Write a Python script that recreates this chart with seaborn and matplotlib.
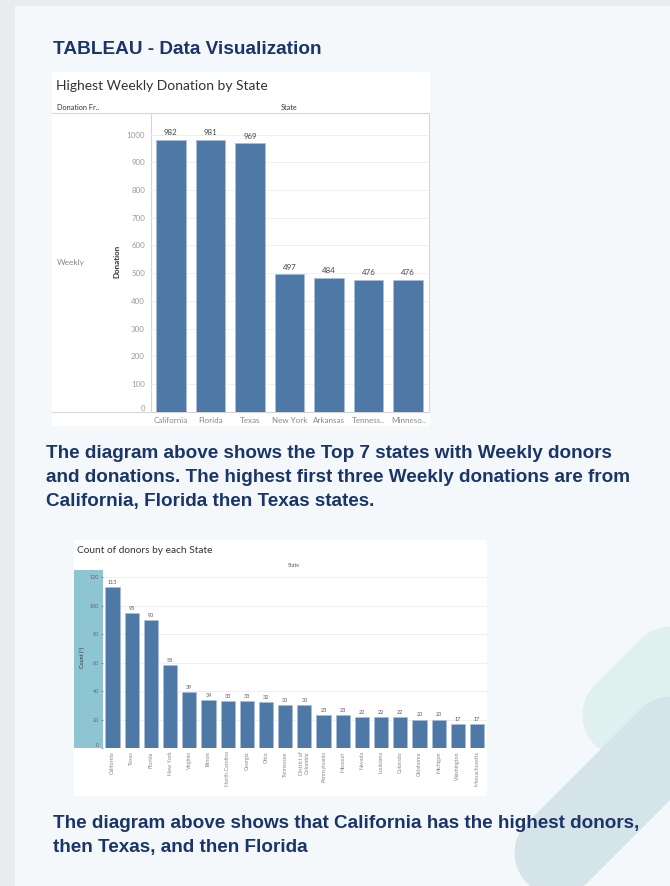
import matplotlib
matplotlib.use('Agg')
import matplotlib.pyplot as plt
import matplotlib.transforms as mtransforms
import seaborn as sns
from matplotlib.patches import Rectangle

# ---------------- data ----------------
states_weekly = ["California", "Florida", "Texas", "New York", "Arkansas", "Tenness..", "Minneso.."]
donation_weekly = [982, 981, 969, 497, 484, 476, 476]
yticks_weekly = [0, 100, 200, 300, 400, 500, 600, 700, 800, 900, 1000]

states_count = ["California", "Texas", "Florida", "New York", "Virginia", "Illinois",
                "North Carolina", "Georgia", "Ohio", "Tennessee", "District of\nColumbia",
                "Pennsylvania", "Missouri", "Nevada", "Louisiana", "Colorado", "Oklahoma",
                "Michigan", "Washington", "Massachusetts"]
donor_counts = [113, 95, 90, 58, 39, 34, 33, 33, 32, 30, 30, 23, 23, 22, 22, 22, 20, 20, 17, 17]
yticks_count = [0, 20, 40, 60, 80, 100, 120]

page_title = "TABLEAU - Data Visualization"
para1 = ["The diagram above shows the Top 7 states with Weekly donors",
         "and donations. The highest first three Weekly donations are from",
         "California, Florida then Texas states."]
para2 = ["The diagram above shows that California has the highest donors,",
         "then Texas, and then Florida"]

# ---------------- setup ----------------
sns.set_theme(style="white")
plt.rcParams['font.family'] = ['Lato', 'DejaVu Sans']

W, H = 670, 886
fig = plt.figure(figsize=(W / 100, H / 100), dpi=100)
fig.patch.set_facecolor('#e9ebee')
bg = fig.add_axes([0, 0, 1, 1], zorder=0)
bg.set_xlim(0, W)
bg.set_ylim(H, 0)
bg.axis('off')
renderer = fig.canvas.get_renderer()


def fax(x0, y0, x1, y1):
    return [x0 / W, 1 - y1 / H, (x1 - x0) / W, (y1 - y0) / H]


def fit_size(s, target_w, size0, **kw):
    t = bg.text(0, 0, s, fontsize=size0, **kw)
    w = t.get_window_extent(renderer=renderer).width
    t.remove()
    return size0 * target_w / w


NAVY = '#1a3569'
BLUE = '#4e79a7'

# page card
bg.add_patch(Rectangle((15, 6), W - 15, H - 6, color='#f4f8fb', lw=0, zorder=0))
# decorative bands
bg.plot([625, 820], [715, 520], color='#dff0ee', lw=85 * 0.72, solid_capstyle='round', zorder=1)
bg.plot([557, 820], [853, 590], color='#d4e4e9', lw=85 * 0.72, solid_capstyle='round', zorder=1)

# page texts
head_kw = dict(family=['Liberation Sans', 'DejaVu Sans'], weight='bold', color=NAVY)
fs = fit_size(page_title, 269, 13.6, **head_kw)
bg.text(53, 54, page_title, fontsize=fs, va='baseline', ha='left', zorder=5, **head_kw)

fs1 = fit_size(para1[1], 587, 12.7, **head_kw)
for i, line in enumerate(para1):
    bg.text(46, 458 + 24 * i, line, fontsize=fs1, va='baseline', ha='left', zorder=5, **head_kw)
fs2 = fit_size(para2[0], 588, 12.7, **head_kw)
for i, line in enumerate(para2):
    bg.text(53, 828 + 24 * i, line, fontsize=fs2, va='baseline', ha='left', zorder=5, **head_kw)

# ---------------- chart 1 frame ----------------
bg.add_patch(Rectangle((52, 72), 378, 354, color='white', lw=0, zorder=2))
LINE = '#d6d6d6'
bg.plot([52, 429], [113, 113], color=LINE, lw=0.8, zorder=3)
bg.plot([52, 429], [411.7, 411.7], color=LINE, lw=0.8, zorder=3)
bg.plot([150.5, 150.5], [113, 411.7], color=LINE, lw=0.8, zorder=3)
bg.plot([428.5, 428.5], [113, 411.7], color=LINE, lw=0.8, zorder=3)

fst = fit_size("Highest Weekly Donation by State", 212, 10, color='#333333')
bg.text(56, 90, "Highest Weekly Donation by State", fontsize=fst, color='#333333',
        va='baseline', ha='left', zorder=5)
bg.text(57, 107.5, "Donation Fr..", fontsize=5.3, color='#333333', va='center', ha='left', zorder=5)
bg.text(289, 107.5, "State", fontsize=5.3, color='#333333', va='center', ha='center', zorder=5)
bg.text(57, 263, "Weekly", fontsize=6, color='#888888', va='center', ha='left', zorder=5)
bg.text(117, 261, "Donation", fontsize=5.8, color='#333333', weight='bold', rotation=90,
        va='center', ha='center', zorder=5)

ax1 = fig.add_axes(fax(151, 113, 428, 411.7), zorder=3)
ax1.set_facecolor('none')
sns.barplot(x=states_weekly, y=donation_weekly, color=BLUE, saturation=1, width=0.75,
            edgecolor='#a9bfd8', linewidth=0.5, ax=ax1)
ax1.set_xlim(-0.5, len(states_weekly) - 0.5)
ax1.set_ylim(0, 1078)
ax1.set_yticks(yticks_weekly)
ax1.set_yticklabels([str(v) for v in yticks_weekly])
ax1.yaxis.grid(True, color='#eeeeee', lw=0.6)
ax1.set_axisbelow(True)
for sp in ax1.spines.values():
    sp.set_visible(False)
ax1.tick_params(axis='y', length=0, pad=4.3, labelsize=5.7, labelcolor='#9a9a9a')
ax1.tick_params(axis='x', length=0, pad=3.5, labelsize=5.8, labelcolor='#888888')
ax1.set_xlabel('')
ax1.set_ylabel('')
ax1.bar_label(ax1.containers[0], labels=[str(v) for v in donation_weekly],
              fontsize=5.7, color='#444444', padding=2.5)
# Tableau lifts the zero label above the baseline
lab0 = ax1.get_yticklabels()[0]
lab0.set_transform(lab0.get_transform() + mtransforms.ScaledTranslation(0, 4 / 100, fig.dpi_scale_trans))

# ---------------- chart 2 frame ----------------
bg.add_patch(Rectangle((74, 540), 413, 256, color='white', lw=0, zorder=2))
bg.add_patch(Rectangle((74, 570), 29, 178, color='#8ec5d2', lw=0, zorder=2))
fst2 = fit_size("Count of donors by each State", 134, 6.7, color='#333333')
bg.text(77, 553, "Count of donors by each State", fontsize=fst2, color='#333333',
        va='baseline', ha='left', zorder=5)
bg.text(294, 565.3, "State", fontsize=3.8, color='#555555', va='center', ha='center', zorder=5)
bg.text(82.5, 657, "Count (*)", fontsize=3.9, color='#333333', rotation=90,
        va='center', ha='center', zorder=5)

ax2 = fig.add_axes(fax(103, 570, 486.6, 748), zorder=3)
ax2.set_facecolor('none')
sns.barplot(x=states_count, y=donor_counts, color=BLUE, saturation=1, width=0.74,
            edgecolor='#a9bfd8', linewidth=0.4, ax=ax2)
ax2.set_xlim(-0.5, len(states_count) - 0.5)
ax2.set_ylim(0, 125)
ax2.set_yticks(yticks_count)
ax2.set_yticklabels([str(v) for v in yticks_count])
ax2.yaxis.grid(True, color='#eeeeee', lw=0.6)
ax2.set_axisbelow(True)
for sp in ax2.spines.values():
    sp.set_visible(False)
ax2.tick_params(axis='y', left=True, length=1.8, width=0.5, color='#777777', pad=1,
                labelsize=3.9, labelcolor='#666666')
ax2.tick_params(axis='x', length=0, pad=2.5, labelsize=3.9, labelcolor='#888888',
                labelrotation=90)
for lab in ax2.get_xticklabels():
    lab.set_va('top')
    lab.set_ha('center')
    lab.set_multialignment('center')
ax2.set_xlabel('')
ax2.set_ylabel('')
ax2.bar_label(ax2.containers[0], labels=[str(v) for v in donor_counts],
              fontsize=3.9, color='#555555', padding=1.5)
lab0b = ax2.get_yticklabels()[0]
lab0b.set_transform(lab0b.get_transform() + mtransforms.ScaledTranslation(0, 3 / 100, fig.dpi_scale_trans))

fig.savefig('out.png', dpi=100, facecolor=fig.get_facecolor())
